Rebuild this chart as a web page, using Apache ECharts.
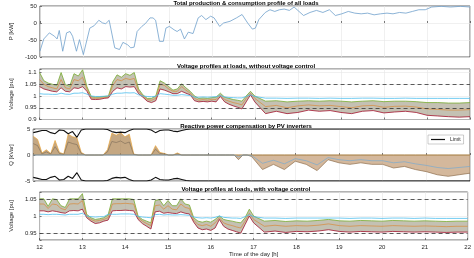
<!DOCTYPE html>
<html>
<head>
<meta charset="utf-8">
<script src="https://cdn.jsdelivr.net/npm/echarts@6/dist/echarts.min.js"></script>
<style>html,body{margin:0;padding:0;background:#fff}#chart{width:474px;height:258px}</style>
</head>
<body>
<div id="chart"></div>
<script>
/* total P profile */
var pTime = [12.00,12.09,12.22,12.34,12.40,12.45,12.53,12.62,12.70,12.76,12.85,12.92,13.01,13.16,13.26,13.37,13.46,13.53,13.61,13.74,
    13.85,13.93,14.04,14.11,14.19,14.26,14.37,14.45,14.56,14.63,14.69,14.78,14.87,14.93,15.01,15.12,15.19,15.27,15.36,15.45,
    15.56,15.68,15.76,15.86,15.97,16.05,16.18,16.27,16.42,16.57,16.70,16.83,16.94,17.01,17.09,17.24,17.35,17.46,17.57,17.68,
    17.80,17.91,17.98,18.13,18.28,18.43,18.58,18.73,18.87,19.02,19.17,19.32,19.47,19.62,19.77,19.92,20.07,20.21,20.36,20.51,
    20.66,20.81,20.96,21.11,21.33,21.55,21.78,22.00];
var pLoad = [-83,-47,-29,-39,-47,-22,-83,-29,-25,-39,-83,-49,-93,-15,-8,8,0,-2,8,-73,
    -78,-57,-64,-73,-71,-25,-10,-2,15,15,8,-54,-54,-15,-10,-20,-25,-18,-47,-27,
    -31,15,22,10,20,15,-10,0,5,15,25,0,-18,-15,10,31,39,34,39,41,
    37,47,39,22,31,37,31,39,22,27,34,29,27,29,24,27,29,27,31,29,
    34,39,39,47,49,47,49,47];

/* time grid for the load panels */
var hours = [12,12.1,12.2,12.3,12.4,12.5,12.6,12.7,12.8,12.9,
    13,13.1,13.2,13.3,13.4,13.5,13.6,13.7,13.8,13.9,
    14,14.1,14.2,14.3,14.4,14.5,14.6,14.7,14.8,14.9,
    15,15.1,15.2,15.3,15.4,15.5,15.6,15.7,15.8,15.9,
    16,16.1,16.2,16.3,16.4,16.5,16.6,16.7,16.8,16.9,
    17,
    17.25,17.5,17.75,18,18.25,18.5,18.75,19,19.25,19.5,19.75,20,20.25,20.5,20.75,21,21.25,21.5,21.75,22];

/* voltages without control */
var vNoTop = [1.100,1.065,1.055,1.050,1.045,1.100,1.048,1.042,1.095,1.085,
    1.112,1.040,0.998,0.995,0.996,0.998,1.000,1.060,1.090,1.080,
    1.095,1.088,1.100,1.030,1.005,0.990,0.990,1.000,1.065,1.055,
    1.040,1.025,1.030,1.052,1.035,1.020,1.000,0.990,0.992,0.990,
    0.993,0.995,1.012,0.995,0.990,0.985,0.982,0.978,1.000,1.020,
    1.000,
    0.978,0.980,0.975,0.978,0.980,0.978,0.980,0.978,0.975,0.978,
    0.980,0.976,0.978,0.978,0.976,0.972,0.972,0.970,0.970,0.972];
var vNoMid = [1.070,1.050,1.040,1.035,1.030,1.070,1.035,1.030,1.070,1.065,
    1.080,1.030,0.992,0.990,0.991,0.993,0.996,1.045,1.070,1.065,
    1.075,1.070,1.075,1.020,1.000,0.985,0.982,0.990,1.050,1.045,
    1.030,1.020,1.020,1.040,1.025,1.012,0.990,0.982,0.985,0.982,
    0.986,0.985,1.005,0.985,0.978,0.972,0.968,0.962,0.990,1.012,
    0.990,
    0.955,0.960,0.950,0.958,0.962,0.958,0.960,0.955,0.950,0.958,
    0.960,0.952,0.956,0.957,0.953,0.945,0.943,0.940,0.940,0.942];
var vNoLow = [1.040,1.030,1.025,1.020,1.018,1.035,1.020,1.018,1.035,1.032,
    1.040,1.020,0.986,0.985,0.986,0.990,0.992,1.020,1.035,1.030,
    1.040,1.038,1.040,1.010,0.995,0.978,0.972,0.980,1.030,1.025,
    1.018,1.010,1.010,1.020,1.012,1.005,0.980,0.975,0.977,0.975,
    0.978,0.975,0.998,0.975,0.965,0.958,0.952,0.945,0.975,1.005,
    0.975,
    0.925,0.935,0.925,0.930,0.940,0.935,0.938,0.930,0.925,0.935,
    0.938,0.928,0.932,0.935,0.930,0.918,0.915,0.912,0.910,0.912];
var vNoBase = [1.010,1.008,1.008,1.007,1.007,1.012,1.008,1.007,1.012,1.012,
    1.014,1.008,1.000,0.998,0.998,0.999,1.000,1.008,1.012,1.012,
    1.014,1.013,1.014,1.005,1.000,0.998,0.997,0.999,1.010,1.008,
    1.006,1.003,1.003,1.006,1.004,1.002,0.995,0.995,0.996,0.995,
    0.996,0.997,1.002,0.996,0.994,0.993,0.992,0.992,0.998,1.005,
    0.998,
    0.991,0.991,0.990,0.991,0.991,0.990,0.991,0.990,0.990,0.991,
    0.991,0.990,0.990,0.991,0.990,0.990,0.990,0.990,0.990,0.990];

/* reactive power */
var qLimit = [4.3,4.5,4.7,4.7,4.3,4.1,4.8,4.7,4.1,4.5,
    3.4,4.8,5.0,5.0,5.0,5.0,5.0,4.9,4.5,4.3,
    4.4,4.3,4.7,5.0,5.0,5.0,5.0,4.8,4.3,4.7,
    4.8,4.8,4.6,4.5,4.7,4.9,5.0,5.0,5.0,5.0,
    5.0,5.0,5.0,5.0,5.0,5.0,5.0,5.0,5.0,5.0,
    5.0,
    5,5,5,5,5,5,5,5,5,5,5,5,5,5,5,5,5,5,5,5];
var qUp = [3.6,3.0,0.4,1.0,0.3,2.8,0.5,0.2,4.0,3.5,
    3.3,0.5,0,0,0,0,0,1.0,4.2,3.8,
    4.3,3.5,4.0,0.2,0,0,0,0,1.8,0.5,
    0.3,0,0,0.4,0,0,0,0,0,0,
    0,0,0,0,0,0,0,0,0,0,
    0,
    0,0,0,0,0,0,0,0,0,0,0,0,0,0,0,0,0,0,0,0];
var qUpMid = [2.2,1.8,0.2,0.6,0.2,1.6,0.3,0.1,2.5,2.2,
    2.0,0.3,0,0,0,0,0,0.6,2.6,2.4,
    2.7,2.2,2.5,0.1,0,0,0,0,1.1,0.3,
    0.2,0,0,0.2,0,0,0,0,0,0,
    0,0,0,0,0,0,0,0,0,0,
    0,
    0,0,0,0,0,0,0,0,0,0,0,0,0,0,0,0,0,0,0,0];
var qDown = [0,0,0,0,0,0,0,0,0,0,
    0,0,0,0,0,0,0,0,0,0,
    0,0,0,0,0,0,0,0,0,0,
    0,0,0,0,0,0,0,0,0,0,
    0,0,0,0,0,0,0,-0.9,0,0,
    -0.3,
    -2.8,-1.8,-2.8,-1.2,-1.8,-3.0,-0.9,-1.5,-1.8,-1.5,
    -1.8,-1.8,-2.5,-2.2,-2.8,-3.2,-3.8,-4.1,-3.8,-3.5];
var qDownMid = [0,0,0,0,0,0,0,0,0,0,
    0,0,0,0,0,0,0,0,0,0,
    0,0,0,0,0,0,0,0,0,0,
    0,0,0,0,0,0,0,0,0,0,
    0,0,0,0,0,0,0,-0.4,0,0,
    -0.1,
    -1.6,-1.0,-1.7,-0.7,-1.1,-1.9,-0.5,-0.9,-1.1,-0.9,
    -1.1,-1.1,-1.5,-1.3,-1.7,-2.0,-2.4,-2.6,-2.4,-2.2];

/* voltages with control */
var vCtTop = [1.050,1.050,1.028,1.050,1.048,1.030,1.025,1.050,1.050,1.050,
    1.065,1.005,0.995,0.990,0.992,0.995,1.003,1.050,1.050,1.050,
    1.050,1.050,1.048,1.000,0.990,0.985,0.980,1.045,1.048,1.030,
    1.045,1.030,1.030,1.050,1.035,1.032,0.995,0.985,0.982,0.985,
    0.982,0.990,1.000,0.990,0.987,0.985,0.982,0.980,0.995,1.020,
    1.000,
    0.985,0.987,0.984,0.986,0.985,0.987,0.990,0.986,0.985,0.987,
    0.986,0.985,0.987,0.986,0.985,0.986,0.985,0.984,0.985,0.985];
var vCtMid = [1.035,1.035,1.022,1.035,1.033,1.022,1.018,1.035,1.036,1.035,
    1.045,1.000,0.990,0.985,0.987,0.990,0.995,1.035,1.036,1.036,
    1.037,1.036,1.035,0.995,0.985,0.978,0.972,1.030,1.032,1.020,
    1.030,1.020,1.018,1.035,1.025,1.022,0.988,0.975,0.972,0.975,
    0.970,0.980,0.995,0.980,0.975,0.972,0.968,0.965,0.985,1.008,
    0.990,
    0.970,0.973,0.970,0.972,0.971,0.973,0.977,0.972,0.970,0.972,
    0.971,0.970,0.972,0.971,0.970,0.971,0.970,0.969,0.970,0.970];
var vCtLow = [1.015,1.015,1.012,1.015,1.013,1.010,1.008,1.015,1.016,1.015,
    1.020,0.995,0.985,0.978,0.980,0.985,0.988,1.015,1.016,1.016,
    1.017,1.016,1.015,0.990,0.978,0.970,0.962,1.012,1.014,1.008,
    1.010,1.008,1.007,1.012,1.008,1.006,0.982,0.965,0.960,0.962,
    0.958,0.965,0.990,0.970,0.962,0.958,0.954,0.950,0.975,1.000,
    0.980,
    0.953,0.956,0.952,0.955,0.954,0.956,0.960,0.955,0.953,0.955,
    0.954,0.953,0.955,0.954,0.953,0.954,0.953,0.952,0.953,0.953];
var vCtBase = [1.005,1.005,1.004,1.005,1.005,1.004,1.003,1.005,1.005,1.005,
    1.008,1.000,0.998,0.997,0.998,0.998,1.005,1.005,1.005,1.006,
    1.006,1.006,1.005,0.999,0.997,0.996,0.995,1.004,1.005,1.003,
    1.004,1.003,1.003,1.004,1.003,1.002,0.997,0.995,0.994,0.995,
    0.994,0.996,1.000,0.996,0.995,0.994,0.994,0.993,0.998,1.004,
    0.998,
    0.994,0.994,0.993,0.994,0.994,0.994,0.994,0.994,0.993,0.994,
    0.994,0.993,0.994,0.994,0.993,0.994,0.993,0.993,0.993,0.993];

var titles = ['Total production & consumption profile of all loads',
    'Voltage profiles at loads, without voltage control',
    'Reactive power compensation by PV inverters',
    'Voltage profiles at loads, with voltage control'];

var myChart = echarts.init(document.getElementById('chart'));
var font = '"Liberation Sans", Arial, sans-serif';

function pairs(xs, ys) {
    return xs.map(function (x, i) { return [x, ys[i]]; });
}
function neg(a) {
    return a.map(function (v) { return -v; });
}
function line(idx, data, color, w, extra) {
    var s = {
        type: 'line', xAxisIndex: idx, yAxisIndex: idx, data: data,
        showSymbol: false, silent: true, z: 3,
        lineStyle: {color: color, width: w},
        itemStyle: {color: color}
    };
    for (var k in extra) s[k] = extra[k];
    return s;
}
// filled envelope between two profiles, placed with the axis scales
function band(idx, top, low, color) {
    return {
        type: 'custom', xAxisIndex: idx, yAxisIndex: idx, silent: true, z: 2,
        data: hours.map(function (h, i) { return [h, top[i], low[i]]; }),
        encode: {x: 0, y: [1, 2]},
        renderItem: function (params, api) {
            if (params.dataIndex !== 0) return;
            var up = [], dn = [];
            for (var i = 0; i < hours.length; i++) {
                up.push(api.coord([hours[i], top[i]]));
                dn.unshift(api.coord([hours[i], low[i]]));
            }
            return {type: 'polygon', shape: {points: up.concat(dn)},
                style: {fill: color, opacity: 0.65}};
        }
    };
}
var dashes = {
    silent: true, symbol: 'none', label: {show: false},
    lineStyle: {color: '#333', type: [4, 3], width: 0.8},
    data: [{yAxis: 1.05}, {yAxis: 0.95}]
};
function voltSeries(idx, top, mid, low, base) {
    return [
        band(idx, top, low, '#a5a08a'),
        line(idx, pairs(hours, top), '#77AC30', 0.8),
        line(idx, pairs(hours, mid), '#D98A3A', 0.7),
        line(idx, pairs(hours, low), '#A2142F', 0.8),
        line(idx, pairs(hours, base), '#4DBEEE', 0.8, {markLine: dashes})
    ];
}
function tickFmt(v) {
    if (Math.abs(v * 20 - Math.round(v * 20)) > 1e-6) return '';
    return String(+v.toFixed(2));
}

var grids = [], xAxes = [], yAxes = [];
var tops = [6, 69, 129, 192], heights = [51, 50.5, 52, 49];
var yCfg = [
    {min: -100, max: 50, interval: 50, name: 'P [kW]'},
    {min: 0.9, max: 1.115, interval: 0.05, name: 'Voltage [pu]'},
    {min: -5, max: 5, interval: 5, name: 'Q [kVar]'},
    {min: 0.93, max: 1.07, splitNumber: 3, name: 'Voltage [pu]'}
];
for (var i = 0; i < 4; i++) {
    grids.push({left: 22, right: 4, top: tops[i], height: heights[i],
        show: true, borderColor: '#262626', borderWidth: 0.7, backgroundColor: '#fff'});
    xAxes.push({
        type: 'value', gridIndex: i, min: 12, max: 22, interval: 1,
        axisLine: {show: false},
        axisTick: {inside: true, length: 2, lineStyle: {color: '#262626', width: 0.6}},
        axisLabel: {show: i === 3, fontSize: 6, color: '#262626', fontFamily: font, margin: 4},
        splitLine: {show: true, lineStyle: {color: '#e6e6e6', width: 0.6}},
        name: i === 3 ? 'Time of the day [h]' : '',
        nameLocation: 'middle', nameGap: 11,
        nameTextStyle: {fontSize: 6, color: '#262626', fontFamily: font}
    });
    var c = yCfg[i];
    var y = {
        type: 'value', gridIndex: i, min: c.min, max: c.max,
        axisLine: {show: false},
        axisTick: {inside: true, length: 2, lineStyle: {color: '#262626', width: 0.6}},
        axisLabel: {fontSize: 6, color: '#262626', fontFamily: font, margin: 3,
            formatter: i === 1 || i === 3 ? tickFmt : null},
        splitLine: {show: true, lineStyle: {color: '#e6e6e6', width: 0.6}},
        name: c.name, nameLocation: 'middle', nameRotate: 90, nameGap: 12,
        nameTextStyle: {fontSize: 6, color: '#262626', fontFamily: font}
    };
    if (c.interval) y.interval = c.interval;
    if (c.splitNumber) y.splitNumber = c.splitNumber;
    yAxes.push(y);
}

var series = [];
series.push(line(0, pairs(pTime, pLoad), '#6f9fcc', 0.8));
series = series.concat(voltSeries(1, vNoTop, vNoMid, vNoLow, vNoBase));
series.push(line(2, pairs(hours, qUp), '#E8A33A', 0.7, {areaStyle: {color: '#b08a58', opacity: 0.75}}));
series.push(line(2, pairs(hours, qUpMid), '#7a6a55', 0.6));
series.push(line(2, pairs(hours, qDown), '#8c6d4c', 0.7, {areaStyle: {color: '#c29a72', opacity: 0.7}}));
series.push(line(2, pairs(hours, qDownMid), '#6aa8d8', 0.6));
series.push(line(2, pairs(hours, qLimit), '#111', 1.1, {name: 'Limit'}));
series.push(line(2, pairs(hours, neg(qLimit)), '#111', 1.1, {name: 'Limit'}));
series = series.concat(voltSeries(3, vCtTop, vCtMid, vCtLow, vCtBase));

var graphics = titles.map(function (t, i) {
    return {
        type: 'text', x: 246, y: tops[i] - 3,
        style: {text: t, textAlign: 'center', textVerticalAlign: 'middle',
            font: 'bold 6px ' + font, fill: '#000'}
    };
});

myChart.setOption({
    animation: false,
    backgroundColor: '#fff',
    grid: grids,
    xAxis: xAxes,
    yAxis: yAxes,
    legend: {
        data: ['Limit'], left: 428, top: 135, itemWidth: 14, itemHeight: 1.2,
        icon: 'rect', itemGap: 2, padding: [2, 3],
        backgroundColor: '#fff', borderColor: '#999', borderWidth: 0.5,
        textStyle: {fontSize: 5, color: '#262626', fontFamily: font}
    },
    graphic: graphics,
    series: series
});
</script>
</body>
</html>
